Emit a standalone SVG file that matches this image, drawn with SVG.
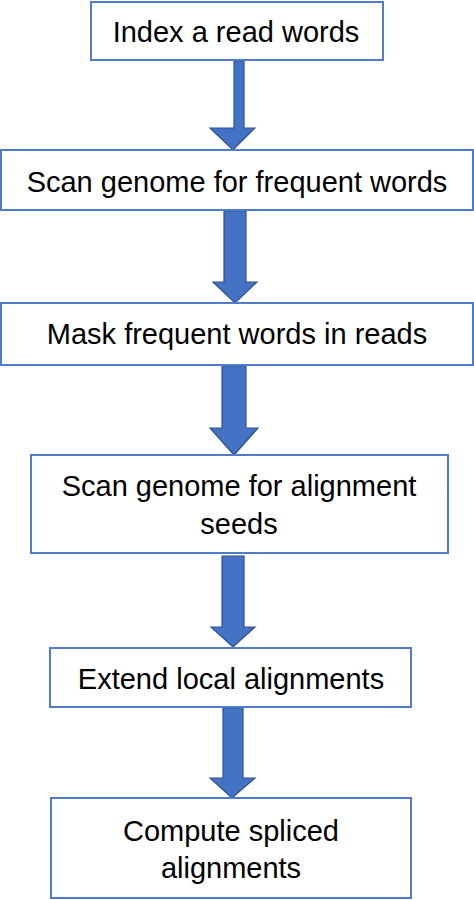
<svg xmlns="http://www.w3.org/2000/svg" width="474" height="900" viewBox="0 0 474 900">
<style>
.box{fill:#ffffff;stroke:#4F7BC8;stroke-width:2}
.t{font-family:"Liberation Sans",Arial,sans-serif;font-size:29px;fill:#000;text-anchor:middle}
.arr{fill:#4472C4;stroke:#2F528F;stroke-width:1.2;stroke-linejoin:miter}
</style>
<rect width="474" height="900" fill="#fff"/>
<g id="connectors">
<path class="arr" d="M234,61 H244 V128 H255 L233,150 L210,128 H234 Z"/>
<path class="arr" d="M224,211 H246 V282 H257 L235,303 L213,282 H224 Z"/>
<path class="arr" d="M222,366 H246 V428 H258 L234,455 L210,428 H222 Z"/>
<path class="arr" d="M222,556 H244 V627 H255 L233,647 L211,627 H222 Z"/>
<path class="arr" d="M223,708 H243 V778 H255 L232,798 L210,778 H223 Z"/>
</g>
<g id="n1"><rect class="box" x="91" y="2" width="292" height="58"/><text class="t" x="236" y="42">Index a read words</text></g>
<g id="n2"><rect class="box" x="1" y="150" width="472" height="60"/><text class="t" x="237" y="192">Scan genome for frequent words</text></g>
<g id="n3"><rect class="box" x="1" y="303" width="472" height="62"/><text class="t" x="237" y="344">Mask frequent words in reads</text></g>
<g id="n4"><rect class="box" x="31" y="455" width="417" height="98"/><text class="t" x="239" y="496">Scan genome for alignment</text><text class="t" x="239" y="534">seeds</text></g>
<g id="n5"><rect class="box" x="50" y="648" width="361" height="59"/><text class="t" x="231" y="689">Extend local alignments</text></g>
<g id="n6"><rect class="box" x="51" y="798" width="360" height="100"/><text class="t" x="231" y="841">Compute spliced</text><text class="t" x="231" y="878">alignments</text></g>
</svg>
